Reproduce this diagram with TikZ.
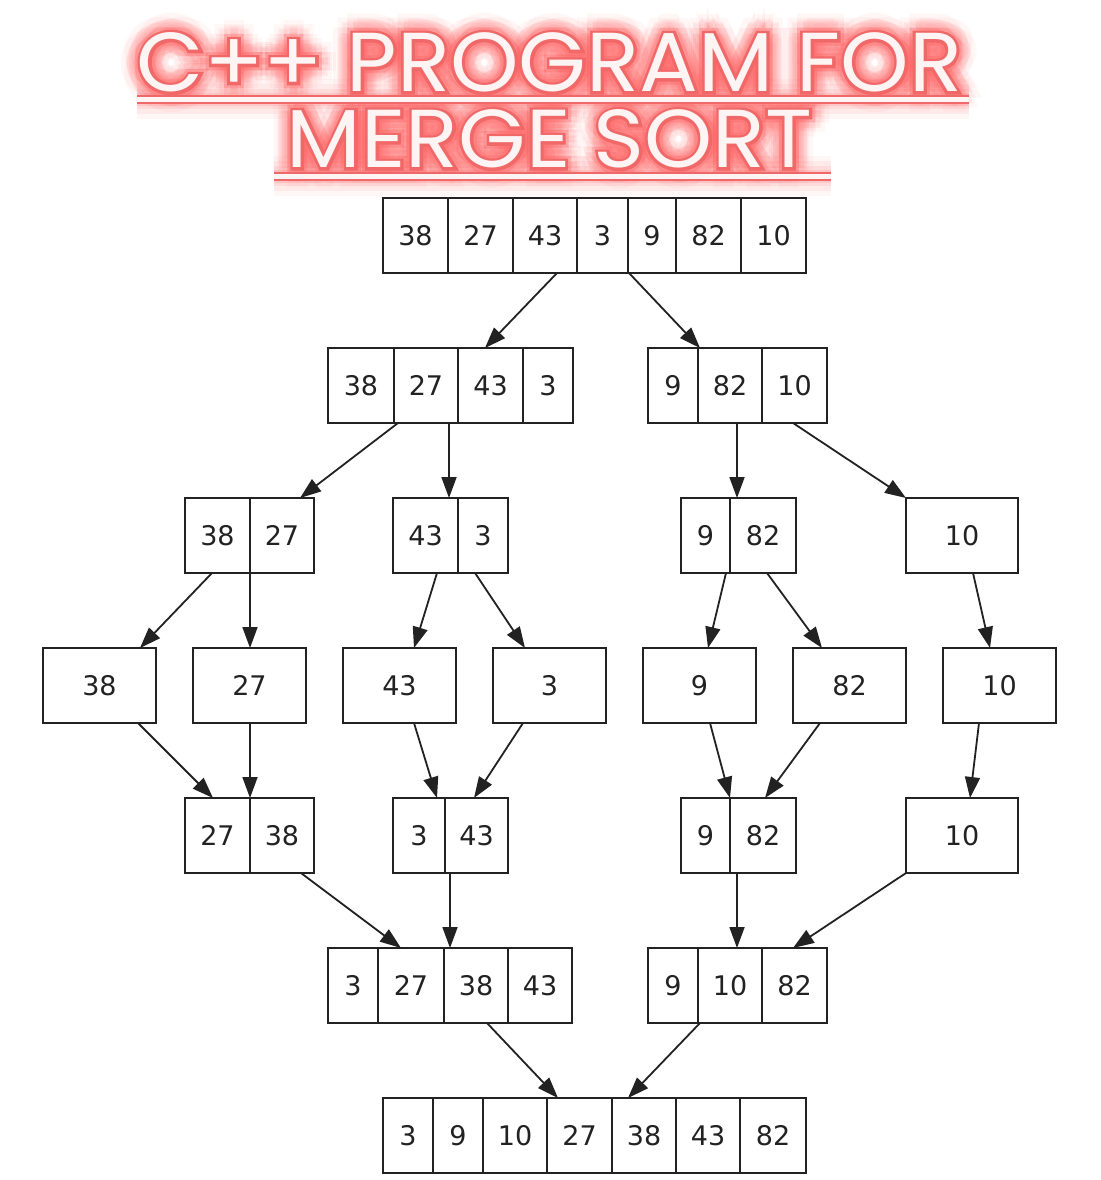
\documentclass[tikz,border=0pt]{standalone}
\usepackage{fontspec}
\usepackage{graphicx}
\usetikzlibrary{arrows.meta,calc}
\newfontfamily\numfont{DejaVu Sans}
\newfontfamily\titlefont{Poppins}
\newfontfamily\titleedge[FakeBold=7]{Poppins}
\newfontfamily\titleglow[FakeBold=14]{Poppins}
\definecolor{ink}{HTML}{222222}
\definecolor{glowred}{HTML}{FF5A5A}
\definecolor{edgered}{HTML}{F06868}
\definecolor{lettr}{HTML}{FFF4F4}
\newcommand\tlineA[1]{\resizebox{825pt}{59pt}{#1C++ PROGRAM FOR}}
\newcommand\tlineB[1]{\resizebox{525pt}{58pt}{#1MERGE SORT}}
\tikzset{
  cell/.style={draw=ink, line width=1.8pt, minimum height=75pt, inner sep=0pt,
    outer sep=0pt, anchor=north west, text=ink,
    font=\numfont\fontsize{27}{27}\selectfont},
  arr/.style={draw=ink, line width=1.8pt, -{Triangle[length=21pt,width=15pt]}},
  ttxt/.style={inner sep=0pt, outer sep=0pt}
}
\newcommand\cellat[5]{\node[cell, minimum width=#4pt] (#1) at (#2,#3) {#5};}
\begin{document}
\begin{tikzpicture}[x=1pt,y=-1pt]
\fill[white] (0,0) rectangle (1100,1180);
\useasboundingbox (0,0) rectangle (1100,1180);
% ---------- title ----------
\coordinate (t1c) at (549.5,62.5);
\coordinate (t2c) at (549.5,139);
\coordinate (u1a) at (137,99.5);
\coordinate (u1b) at (969,99.5);
\coordinate (u2a) at (274,176);
\coordinate (u2b) at (831,176);
\foreach \w/\op in {40/0.05, 30/0.07, 20/0.10, 13/0.14}{
  \draw[glowred, opacity=\op, line width=\w pt] (u1a) -- (u1b);
  \draw[glowred, opacity=\op, line width=\w pt] (u2a) -- (u2b);
}
\foreach \r/\op in {14/0.05, 8/0.07}{
  \foreach \a in {0,45,...,315}{
    \node[ttxt, text=glowred, opacity=\op] at ([shift={(\a:\r)}]t1c) {\tlineA{\titleglow}};
    \node[ttxt, text=glowred, opacity=\op] at ([shift={(\a:\r)}]t2c) {\tlineB{\titleglow}};
  }
}
\node[ttxt, text=glowred, opacity=0.2] (g1) at (t1c) {\tlineA{\titleglow}};
\node[ttxt, text=glowred, opacity=0.2] (g2) at (t2c) {\tlineB{\titleglow}};
\node[ttxt, text=edgered] (e1) at (t1c) {\tlineA{\titleedge}};
\node[ttxt, text=edgered] (e2) at (t2c) {\tlineB{\titleedge}};
\draw[edgered, line width=9pt] (u1a) -- (u1b);
\draw[edgered, line width=9pt] (u2a) -- (u2b);
\draw[lettr, line width=5pt] (u1a) -- (u1b);
\draw[lettr, line width=5pt] (u2a) -- (u2b);
\node[ttxt, text=lettr] (title1) at (t1c) {\tlineA{\titlefont}};
\node[ttxt, text=lettr] (title2) at (t2c) {\tlineB{\titlefont}};
% ---------- row 1 ----------
\cellat{a1}{383}{198}{65}{38}
\cellat{a2}{448}{198}{65}{27}
\cellat{a3}{513}{198}{64}{43}
\cellat{a4}{577}{198}{51}{3}
\cellat{a5}{628}{198}{48}{9}
\cellat{a6}{676}{198}{65}{82}
\cellat{a7}{741}{198}{65}{10}
% ---------- row 2 ----------
\cellat{b1}{328}{348}{66}{38}
\cellat{b2}{394}{348}{64}{27}
\cellat{b3}{458}{348}{65}{43}
\cellat{b4}{523}{348}{50}{3}
\cellat{c1}{648}{348}{50}{9}
\cellat{c2}{698}{348}{64}{82}
\cellat{c3}{762}{348}{65}{10}
% ---------- row 3 ----------
\cellat{d1}{185}{498}{65}{38}
\cellat{d2}{250}{498}{64}{27}
\cellat{e1}{393}{498}{65}{43}
\cellat{e2}{458}{498}{50}{3}
\cellat{f1}{681}{498}{49}{9}
\cellat{f2}{730}{498}{66}{82}
\cellat{g1}{906}{498}{112}{10}
% ---------- row 4 ----------
\cellat{h1}{43}{648}{113}{38}
\cellat{h2}{193}{648}{113}{27}
\cellat{h3}{343}{648}{113}{43}
\cellat{h4}{493}{648}{113}{3}
\cellat{h5}{643}{648}{113}{9}
\cellat{h6}{793}{648}{113}{82}
\cellat{h7}{943}{648}{113}{10}
% ---------- row 5 ----------
\cellat{i1}{185}{798}{65}{27}
\cellat{i2}{250}{798}{64}{38}
\cellat{j1}{393}{798}{52}{3}
\cellat{j2}{445}{798}{63}{43}
\cellat{k1}{681}{798}{49}{9}
\cellat{k2}{730}{798}{66}{82}
\cellat{l1}{906}{798}{112}{10}
% ---------- row 6 ----------
\cellat{m1}{328}{948}{50}{3}
\cellat{m2}{378}{948}{66}{27}
\cellat{m3}{444}{948}{64}{38}
\cellat{m4}{508}{948}{64}{43}
\cellat{n1}{648}{948}{50}{9}
\cellat{n2}{698}{948}{64}{10}
\cellat{n3}{762}{948}{65}{82}
% ---------- row 7 ----------
\cellat{o1}{383}{1098}{50}{3}
\cellat{o2}{433}{1098}{50}{9}
\cellat{o3}{483}{1098}{64}{10}
\cellat{o4}{547}{1098}{65}{27}
\cellat{o5}{612}{1098}{64}{38}
\cellat{o6}{676}{1098}{64}{43}
\cellat{o7}{740}{1098}{66}{82}
% ---------- arrows ----------
\draw[arr] ([xshift=44pt]a3.south west) -- ([xshift=27pt]b3.north west);
\draw[arr] ([xshift=1pt]a4.south east) -- ([xshift=2pt]c2.north west);
\draw[arr] ([xshift=4pt]b2.south west) -- ([xshift=50pt]d2.north west);
\draw[arr] ([xshift=-9pt]b2.south east) -- ([xshift=-9pt]e1.north east);
\draw[arr] ([xshift=39pt]c2.south west) -- ([xshift=7pt]f2.north west);
\draw[arr] ([xshift=31pt]c3.south west) -- (g1.north west);
\draw[arr] ([xshift=27pt]d1.south west) -- ([xshift=97pt]h1.north west);
\draw[arr] (d1.south east) -- ([xshift=57pt]h2.north west);
\draw[arr] ([xshift=44pt]e1.south west) -- ([xshift=71pt]h3.north west);
\draw[arr] ([xshift=17pt]e2.south west) -- ([xshift=32pt]h4.north west);
\draw[arr] ([xshift=45pt]f1.south west) -- ([xshift=65pt]h5.north west);
\draw[arr] ([xshift=37pt]f2.south west) -- ([xshift=29pt]h6.north west);
\draw[arr] ([xshift=67pt]g1.south west) -- ([xshift=47pt]h7.north west);
\draw[arr] ([xshift=95pt]h1.south west) -- ([xshift=28pt]i1.north west);
\draw[arr] ([xshift=57pt]h2.south west) -- (i1.north east);
\draw[arr] ([xshift=71pt]h3.south west) -- ([xshift=44pt]j1.north west);
\draw[arr] ([xshift=30pt]h4.south west) -- ([xshift=29pt]j2.north west);
\draw[arr] ([xshift=67pt]h5.south west) -- (k1.north east);
\draw[arr] ([xshift=27pt]h6.south west) -- ([xshift=35pt]k2.north west);
\draw[arr] ([xshift=36pt]h7.south west) -- ([xshift=64pt]l1.north west);
\draw[arr] ([xshift=51pt]i2.south west) -- ([xshift=23pt]m2.north west);
\draw[arr] ([xshift=5pt]j2.south west) -- ([xshift=6pt]m3.north west);
\draw[arr] ([xshift=7pt]k2.south west) -- ([xshift=39pt]n2.north west);
\draw[arr] (l1.south west) -- ([xshift=31pt]n3.north west);
\draw[arr] ([xshift=43pt]m3.south west) -- ([xshift=11pt]o4.north west);
\draw[arr] ([xshift=2pt]n2.south west) -- ([xshift=16pt]o5.north west);
\end{tikzpicture}
\end{document}
